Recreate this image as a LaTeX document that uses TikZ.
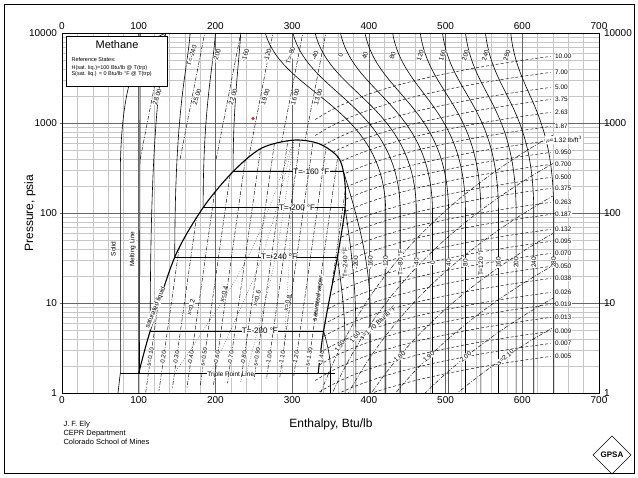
\documentclass[tikz,border=0pt]{standalone}
\usepackage{fontspec}
\setmainfont{Liberation Sans}
\begin{document}
\begin{tikzpicture}[x=1pt,y=-1pt,
  grminor/.style={gray!45,line width=0.3pt},
  grmajor/.style={gray!80!black,line width=0.6pt},
  iso/.style={black,line width=0.6pt},
  dome/.style={black,line width=1.1pt},
  sline/.style={black,line width=0.45pt,dash pattern=on 4pt off 1.5pt on 1pt off 1.5pt},
  rline/.style={black,line width=0.45pt,dash pattern=on 3pt off 2pt},
  qline/.style={black,line width=0.45pt,dotted},
  lbl/.style={font=\fontsize{6.5}{7}\selectfont,fill=white,inner sep=0.4pt},
  tick/.style={font=\fontsize{10}{11}\selectfont}]
\useasboundingbox (0,0) rectangle (638,478);
\draw[line width=0.8pt] (4,4) rectangle (634,473);
\begin{scope}[shift={(62,393)},x=0.7671pt,y=90pt]
 % grid
 \foreach \h in {0,20,...,700} \draw[grminor] (\h,0) -- (\h,4);
 \foreach \d in {0,1,2,3} \foreach \k in {2,...,9} \draw[grminor] (0,{\d+log10(\k)}) -- (700,{\d+log10(\k)});
 \foreach \h in {100,200,...,600} \draw[grmajor] (\h,0) -- (\h,4);
 \foreach \d in {1,2,3} \draw[grmajor] (-3,\d) -- (716,\d);
 \draw[line width=0.8pt] (0,0) rectangle (700,4);
 \foreach \h in {0,100,...,700} {
   \node[tick,above] (tt\h) at (\h,4) {\h};
   \node[tick,below] (tb\h) at (\h,0) {\h};}
 \foreach \d/\t in {0/1,1/10,2/100,3/1000,4/10000} {
   \node[tick,left] (tl\d) at (-2,\d) {\t};
   \node[tick,right] (tr\d) at (702,\d) {\t};}
 % solid & melting lines
 \draw[iso] (73,0) -- (76,0.22) -- (76,2.5) .. controls (78,3.5) and (100,3.9) .. (136,4);
 \draw[iso] (101,0.22) -- (102,4);
 \draw[iso] (76,0.22) -- (356,0.22);
 \node[lbl,rotate=90] (solid) at (67,1.6) {Solid};
 \node[lbl,rotate=90] (melt) at (92,1.6) {Melting Line};
 \node[lbl] (tpl) at (220,0.2) {Triple Point Line};
 % liquid isotherms
 \foreach \hl/\p/\ht in {115/0.69/135, 147/1.51/167, 184/2.06/200, 223/2.46/233}
   \draw[iso] (\hl,\p) .. controls (\hl,3.2) and (\ht-3,3.6) .. (\ht,4);
 % supercritical isotherms
 \foreach \ht/\hl in {265/422,301/441,330/462,363/483,395/504,431/526,467/546,496/569,526/592,552/615,585/641}
   \draw[iso] (\ht,4) .. controls ({\ht+0.15*(\hl-\ht)},3.3) and (\hl,3.2) .. (\hl,2.0) -- (\hl,0);
 % vapor branches
 \foreach \hv/\p/\hl in {341/0.69/350, 359/1.51/369, 369/2.06/383, 367/2.46/402}
   \draw[iso] (\hv,\p) .. controls ({\hv+0.5*(\hl-\hv)},{\p*0.8}) and (\hl,{\p*0.6}) .. (\hl,{\p*0.35}) -- (\hl,0);
 % plateaus
 \foreach \hl/\hv/\p/\t in {115/341/0.69/-280, 147/359/1.51/-240, 184/369/2.06/-200, 223/367/2.46/-160} {
   \draw[iso] (\hl,\p) -- (\hv,\p);
   \node[lbl,font=\fontsize{8}{9}\selectfont] (pl\t) at ({(\hl+\hv)/2+30},\p) {T=\t\ °F};}
 % dome
 \draw[dome] plot[smooth] coordinates {(100,0.22) (115,0.69) (147,1.51) (184,2.06) (223,2.46) (260,2.72) (302,2.81) (335,2.77) (360,2.62) (368,2.40) (369,2.06) (359,1.51) (341,0.69) (334,0.22)};
 \node[lbl,rotate=68] (satl) at (122,0.95) {saturated liquid};
 \node[lbl,rotate=82] (satv) at (334,1.05) {saturated vapor};
 % quality lines
 \foreach \q/\lh/\lp in {0.2/168/0.95,0.4/211/1.1,0.6/254/1.05,0.8/294/1.0} {
   \draw[qline] (302,2.81) .. controls ({302-0.35*(302-100-\q*234)},1.5) .. ({100+\q*234},0.22);
   \node[lbl,rotate=75] (q\q) at (\lh,\lp) {x=\q};}
 % entropy lines in dome
 \begin{scope}
  \clip plot[smooth] coordinates {(100,0.22) (115,0.69) (147,1.51) (184,2.06) (223,2.46) (260,2.72) (302,2.81) (335,2.77) (360,2.62) (368,2.40) (369,2.06) (359,1.51) (341,0.69) (334,0.22)} -- (100,0) -- cycle;
  \foreach \h in {117,134,151,170,187,204,222,239,256,272,289,307,324,340}
    \draw[sline] (\h-8,0) -- (\h+40,2.9);
 \end{scope}
 \foreach \h in {117,134,151,170,187,204,222,239,256,272,289,307,324,340}
   \draw[sline] (\h-20,0) -- (\h-8,0);
 \foreach \h/\s in {117/s=0.10,134/0.20,151/0.30,170/0.40,187/s=0.50,204/0.60,222/0.70,239/0.80,256/s=0.90,272/1.00,289/1.10,307/1.20,324/s=1.30,340/1.40}
   \node[lbl,rotate=80,font=\fontsize{6}{7}\selectfont] (sl\h) at (\h-2,0.4) {\s};
 % superheated region
 \begin{scope}[even odd rule]
  \clip (0,0) rectangle (700,4) plot[smooth] coordinates {(100,0.22) (115,0.69) (147,1.51) (184,2.06) (223,2.46) (260,2.72) (302,2.81) (335,2.77) (360,2.62) (368,2.40) (369,2.06) (359,1.51) (341,0.69) (334,0.22)} -- (100,0) -- cycle;
  \foreach \hs in {357,376,402,439,478,526,578}
    \draw[sline] plot[domain=300:640,samples=40] (\x,{0.4+4.3*log10((220+(\x-369)*1.912)/(220+(\hs-369)*1.912))});
  \foreach \y in {56,72,87,99,112,126,140,152,164,177,188,202,214,229,241,253,266,278,292,304,317,331,343,356}
    \draw[rline] plot[domain=330:637,samples=20] (\x,{(393-\y)/90+log10((220+(\x-369)*1.912)/740)});
  \foreach \h in {124,176,223,265,304,334}
    \draw[sline] ({\h-22},2.6) -- ({\h+10},4);
 \end{scope}
 \foreach \h/\t in {124/28.00,176/25.00,223/22.00,265/19.00,304/16.00,334/13.00}
   \node[lbl,rotate=72] (d\t) at (\h,3.29) {\t};
 \foreach \y/\t in {56/10.00,72/7.00,87/5.00,99/3.75,112/2.63,126/1.87,152/0.950,164/0.700,177/0.500,188/0.375,202/0.263,214/0.187,229/0.132,241/0.095,253/0.070,266/0.050,278/0.038,292/0.026,304/0.019,317/0.013,331/0.009,343/0.007,356/0.005}
   \node[lbl,anchor=west] (r\t) at (642,{(393-\y)/90}) {\t};
 \node[lbl,anchor=west] (r132) at (630,{(393-140)/90}) {$\rho$=1.32 lb/ft$^3$};
 \foreach \h/\s in {440/1.80,478/1.90,526/2.00,578/s=2.10}
   \node[lbl,rotate=40] (sv\s) at (\h,0.4) {\s};
 \node[lbl,rotate=55] (s150) at (362,0.52) {1.50};
 \node[lbl,rotate=50] (s160) at (382,0.62) {1.60};
 \node[lbl,rotate=42] (s170) at (412,0.78) {s=1.70 Btu/lb °F};
 % isotherm top labels
 \foreach \h/\t in {169/T=-240,202/-200,239/-160,268/-120,298/T=-80,330/-40,363/0,395/40,431/80,467/120,496/160,526/200,552/240,580/280}
   \node[lbl,rotate=72] (it\h) at (\h,3.75) {\t};
 % isotherm low labels
 \foreach \h/\t in {369/T=-240 °F,383/-200,402/-160,422/-120,441/T=-80 °F,462/-40,483/0,504/40,526/80,546/T=120 °F,569/160,592/200,615/240,641/280}
   \node[lbl,rotate=90] (il\h) at (\h,1.45) {\t};
 \node[circle,fill=red,inner sep=1.2pt] (dot) at (249,3.05) {};
\end{scope}
% legend
\node[draw,line width=0.6pt,fill=white,minimum width=101pt,minimum height=50pt,anchor=north west] (leg) at (66,36) {};
\node[font=\fontsize{11}{12}\selectfont] (legt) at (117,45) {Methane};
\node[font=\fontsize{5.5}{6}\selectfont,anchor=west,align=left] (legr) at (68,67) {Reference States:\\[2pt]H(sat. liq.)=100 Btu/lb @ T(trp)\\S(sat. liq.) = 0 Btu/lb·°F @ T(trp)};
% axis titles
\node[font=\fontsize{12}{13}\selectfont,rotate=90] (ylab) at (30,213) {Pressure, psia};
\node[font=\fontsize{12}{13}\selectfont] (xlab) at (331,424) {Enthalpy, Btu/lb};
\node[font=\fontsize{7.5}{9}\selectfont,anchor=north west,align=left] (auth) at (60,418) {J. F. Ely\\CEPR Department\\Colorado School of Mines};
\draw[line width=0.6pt] (612,436) -- (631,455) -- (612,474) -- (593,455) -- cycle;
\node[font=\bfseries\fontsize{8}{8}\selectfont] (gp) at (612,455) {GPSA};
\end{tikzpicture}
\end{document}
